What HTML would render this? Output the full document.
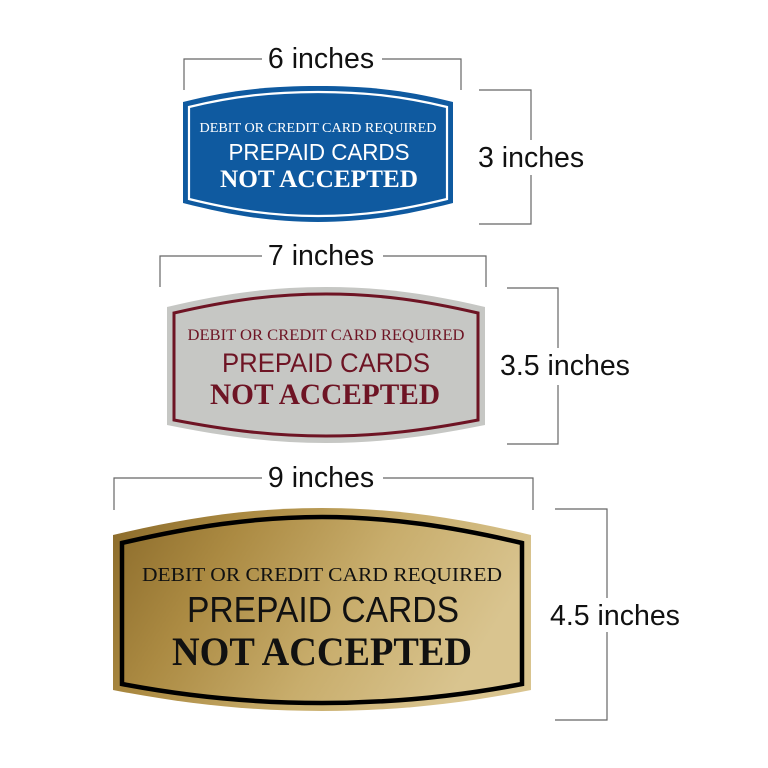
<!DOCTYPE html>
<html><head><meta charset="utf-8"><style>html,body{margin:0;padding:0;background:#fff;}svg{display:block}</style></head>
<body>
<svg width="768" height="768" viewBox="0 0 768 768" xmlns="http://www.w3.org/2000/svg">
<defs>
<linearGradient id="gold" x1="0" y1="0" x2="1" y2="0.3">
<stop offset="0" stop-color="#8a6a2a"/><stop offset="0.3" stop-color="#ab8a42"/><stop offset="0.65" stop-color="#c8ad6c"/><stop offset="1" stop-color="#d9c48f"/>
</linearGradient>
</defs>
<g stroke="#666" stroke-width="1.2" fill="none">
<polyline points="184,90 184,59 262,59"/><polyline points="382,59 461,59 461,90"/>
<polyline points="479,90 531,90 531,140"/><polyline points="531,175 531,224 479,224"/>
<polyline points="160,287 160,256 262,256"/><polyline points="383,256 486,256 486,287"/>
<polyline points="507,288 558,288 558,348"/><polyline points="558,385 558,444 507,444"/>
<polyline points="114,510 114,478 262,478"/><polyline points="383,478 533,478 533,510"/>
<polyline points="555,509 607,509 607,598"/><polyline points="607,632 607,720 555,720"/>
</g>
<g font-family="Liberation Sans, sans-serif" font-size="28.5" fill="#111">
<text x="321" y="68" text-anchor="middle">6 inches</text>
<text x="478" y="167">3 inches</text>
<text x="321" y="265" text-anchor="middle">7 inches</text>
<text x="500" y="375">3.5 inches</text>
<text x="321" y="487" text-anchor="middle">9 inches</text>
<text x="550" y="625">4.5 inches</text>
</g>
<path d="M183,102 C230,90 270,86 318,86 C366,86 406,90 453,102 L453,203 C406,215 366,222 318,222 C270,222 230,215 183,203 Z" fill="#0f5aa0"/>
<path d="M189,107 C234,96 272,92 318,92 C364,92 402,96 447,107 L447,199 C402,210 364,216 318,216 C272,216 234,210 189,199 Z" fill="none" stroke="#fff" stroke-width="2.2"/>
<g fill="#fff" text-anchor="middle">
<text x="318" y="132" font-family="Liberation Serif, serif" font-size="13.5" textLength="237" lengthAdjust="spacingAndGlyphs">DEBIT OR CREDIT CARD REQUIRED</text>
<text x="319" y="160" font-family="Liberation Sans, sans-serif" font-size="23" textLength="181" lengthAdjust="spacingAndGlyphs">PREPAID CARDS</text>
<text x="319" y="187" font-family="Liberation Serif, serif" font-weight="bold" font-size="25" textLength="198" lengthAdjust="spacingAndGlyphs">NOT ACCEPTED</text>
</g>
<path d="M167,307 C222,294 270,287 326,287 C382,287 430,294 485,307 L485,425 C430,436 382,443 326,443 C270,443 222,436 167,425 Z" fill="#c6c7c4"/>
<path d="M174,313 C226,301 272,294 326,294 C380,294 426,301 478,313 L478,420 C426,430 380,436 326,436 C272,436 226,430 174,420 Z" fill="none" stroke="#6e1424" stroke-width="3"/>
<g fill="#6e1424" text-anchor="middle">
<text x="326" y="340" font-family="Liberation Serif, serif" font-size="16" textLength="277" lengthAdjust="spacingAndGlyphs">DEBIT OR CREDIT CARD REQUIRED</text>
<text x="326" y="372" font-family="Liberation Sans, sans-serif" font-size="27" textLength="208" lengthAdjust="spacingAndGlyphs">PREPAID CARDS</text>
<text x="325" y="404" font-family="Liberation Serif, serif" font-weight="bold" font-size="30" textLength="230" lengthAdjust="spacingAndGlyphs">NOT ACCEPTED</text>
</g>
<path d="M113,535 C185,518 250,508 322,508 C394,508 459,518 531,535 L531,690 C459,704 394,711 322,711 C250,711 185,704 113,690 Z" fill="url(#gold)"/>
<path d="M122,543 C190,527 254,517 322,517 C390,517 454,527 522,543 L522,684 C454,697 390,703 322,703 C254,703 190,697 122,684 Z" fill="none" stroke="#000" stroke-width="4.5"/>
<g fill="#111" text-anchor="middle">
<text x="322" y="581" font-family="Liberation Serif, serif" font-size="20" textLength="360" lengthAdjust="spacingAndGlyphs">DEBIT OR CREDIT CARD REQUIRED</text>
<text x="323" y="622" font-family="Liberation Sans, sans-serif" font-size="36" textLength="272" lengthAdjust="spacingAndGlyphs">PREPAID CARDS</text>
<text x="322" y="665" font-family="Liberation Serif, serif" font-weight="bold" font-size="40" textLength="300" lengthAdjust="spacingAndGlyphs">NOT ACCEPTED</text>
</g>
</svg>
</body></html>
